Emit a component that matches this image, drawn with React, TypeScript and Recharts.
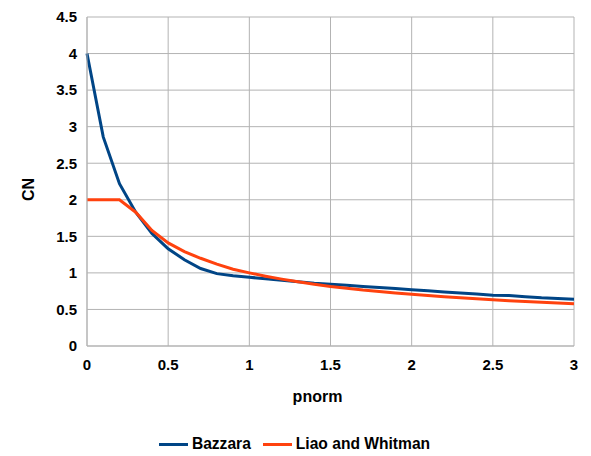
import React from 'react';
import {
  LineChart,
  Line,
  XAxis,
  YAxis,
  CartesianGrid,
  Legend,
} from 'recharts';

const pnorm = [
  0, 0.1, 0.2, 0.3, 0.4, 0.5, 0.6, 0.7, 0.8, 0.9, 1.0,
  1.1, 1.2, 1.3, 1.4, 1.5, 1.6, 1.7, 1.8, 1.9, 2.0,
  2.1, 2.2, 2.3, 2.4, 2.5, 2.6, 2.7, 2.8, 2.9, 3.0,
];

const bazzara = [
  4, 2.86, 2.22, 1.83, 1.54, 1.33, 1.18, 1.06, 0.99, 0.96, 0.94,
  0.92, 0.9, 0.88, 0.86, 0.845, 0.83, 0.815, 0.8, 0.785, 0.77,
  0.755, 0.74, 0.725, 0.71, 0.695, 0.69, 0.675, 0.66, 0.65, 0.64,
];

const liaoWhitman = [
  2, 2, 2, 1.83, 1.58, 1.41, 1.29, 1.2, 1.12, 1.05, 1.0,
  0.955, 0.915, 0.88, 0.845, 0.815, 0.79, 0.765, 0.745, 0.725, 0.707,
  0.69, 0.675, 0.66, 0.645, 0.632, 0.62, 0.608, 0.598, 0.587, 0.578,
];

const xTicks = [0, 0.5, 1, 1.5, 2, 2.5, 3];
const yTicks = [0, 0.5, 1, 1.5, 2, 2.5, 3, 3.5, 4, 4.5];

const seriesNames = ['Bazzara', 'Liao and Whitman'];
const BLUE = '#004586';
const RED = '#ff420e';

const data = pnorm.map((p, i) => ({
  pnorm: p,
  bazzara: bazzara[i],
  liao: liaoWhitman[i],
}));

const font = "'Liberation Sans', Arial, sans-serif";

const LegendBox = () => (
  <div
    style={{
      display: 'flex',
      justifyContent: 'center',
      alignItems: 'center',
      fontFamily: font,
      fontWeight: 'bold',
      fontSize: 15.6,
      lineHeight: '18px',
      color: '#000',
    }}
  >
    {[BLUE, RED].map((c, i) => (
      <span key={i} style={{ display: 'flex', alignItems: 'center', marginRight: i === 0 ? 12 : 0 }}>
        <span style={{ display: 'inline-block', width: 29, height: 3, background: c, marginRight: 4 }} />
        {seriesNames[i]}
      </span>
    ))}
  </div>
);

const XTitle = (props: any) => {
  const vb = props.viewBox;
  return (
    <text
      x={vb.x + vb.width / 2 - 13}
      y={vb.y + 50}
      textAnchor="middle"
      dominantBaseline="central"
      fill="#000"
      fontSize={16}
      fontWeight="bold"
      fontFamily={font}
    >
      pnorm
    </text>
  );
};

const YTitle = (props: any) => {
  const vb = props.viewBox;
  const x = vb.x + 1;
  const y = vb.y + vb.height / 2 + 8;
  return (
    <text
      x={x}
      y={y}
      transform={`rotate(-90 ${x} ${y})`}
      textAnchor="middle"
      dominantBaseline="central"
      fill="#000"
      fontSize={16}
      fontWeight="bold"
      fontFamily={font}
    >
      CN
    </text>
  );
};

export default function App() {
  return (
    <div style={{ position: 'absolute', left: 0, top: 0, background: '#fff' }}>
      <LineChart
        width={591}
        height={456}
        data={data}
        margin={{ top: 17, right: 17, bottom: 62, left: 27 }}
        style={{ fontFamily: font }}
      >
        <CartesianGrid stroke="#b3b3b3" strokeWidth={1} />
        <XAxis
          dataKey="pnorm"
          type="number"
          domain={[0, 3]}
          ticks={xTicks}
          tickLine={false}
          axisLine={{ stroke: '#b3b3b3' }}
          tickSize={0}
          tickMargin={13}
          tick={{ fill: '#000', fontSize: 15, fontWeight: 'bold' }}
          label={<XTitle />}
        />
        <YAxis
          type="number"
          domain={[0, 4.5]}
          ticks={yTicks}
          width={60}
          tickLine={false}
          axisLine={{ stroke: '#b3b3b3' }}
          tickSize={0}
          tickMargin={10}
          tick={{ fill: '#000', fontSize: 15, fontWeight: 'bold' }}
          label={<YTitle />}
        />
        <Legend
          verticalAlign="bottom"
          align="center"
          content={() => <LegendBox />}
          wrapperStyle={{ bottom: 3, left: 21 }}
        />
        <Line
          type="linear"
          dataKey="bazzara"
          name={seriesNames[0]}
          stroke={BLUE}
          strokeWidth={3}
          dot={false}
          isAnimationActive={false}
        />
        <Line
          type="linear"
          dataKey="liao"
          name={seriesNames[1]}
          stroke={RED}
          strokeWidth={3}
          dot={false}
          isAnimationActive={false}
        />
      </LineChart>
    </div>
  );
}
